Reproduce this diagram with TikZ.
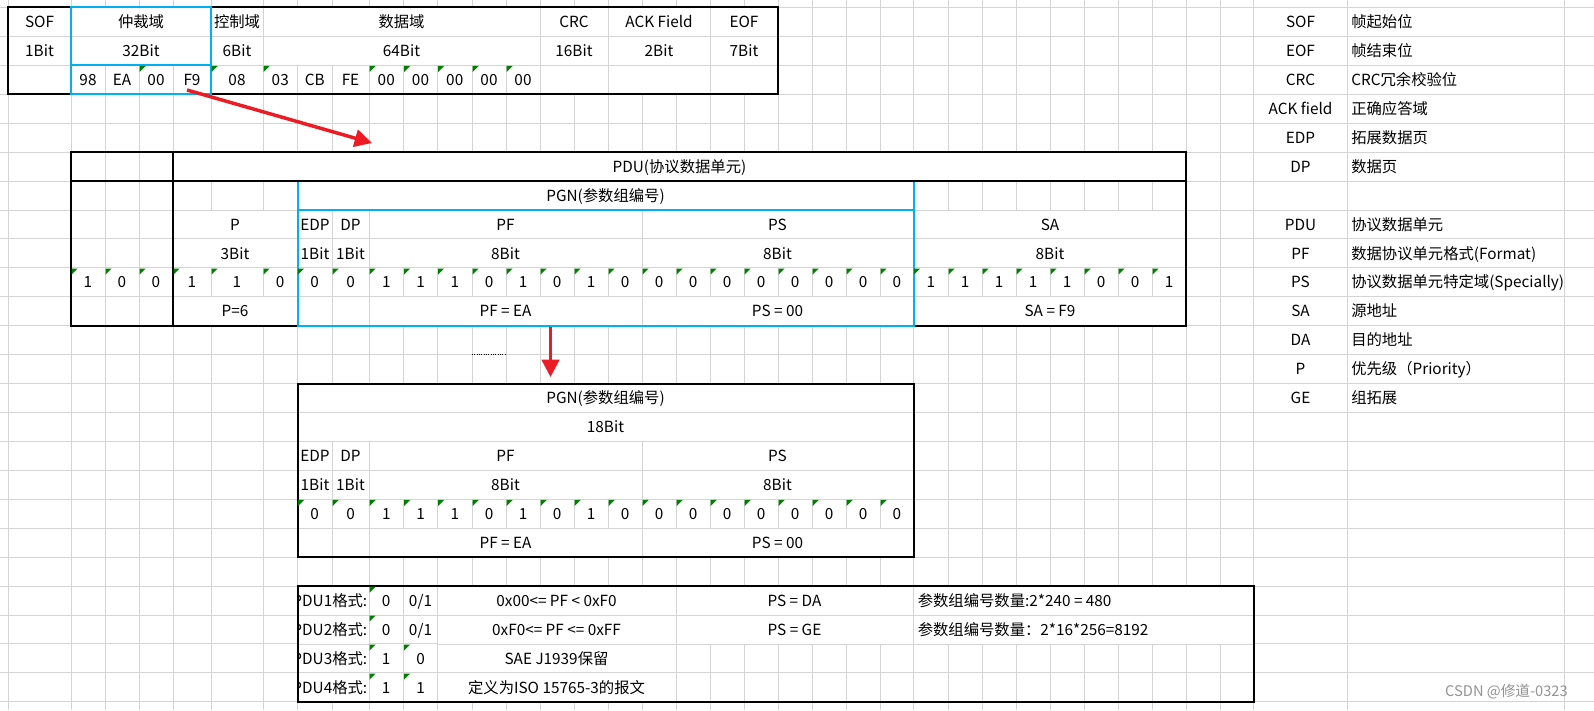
\documentclass[tikz,border=0pt]{standalone}
\usepackage{fontspec}
\setmainfont{Noto Sans CJK SC}
\usepackage{tikz}
\usetikzlibrary{arrows.meta}

\definecolor{gridgray}{RGB}{212,212,212}
\definecolor{selblue}{RGB}{0,176,240}
\definecolor{flaggreen}{RGB}{0,128,0}
\definecolor{markred}{RGB}{237,28,36}

\tikzset{
  celltxt/.style={inner sep=0.75pt, font=\fontsize{11.5}{13}\selectfont, text height=8.4pt, text depth=0pt},
  merged/.style={draw=gridgray, line width=0.75pt, fill=white},
  tblframe/.style={draw=black, line width=1.5pt},
  blueframe/.style={draw=selblue, line width=1.5pt},
  redarrow/.style={draw=markred, line width=2.6pt, -{Triangle[length=13pt,width=13pt]}},
}
\newcommand{\txtflag}[2]{\fill[flaggreen] (#1+0.6,#2+0.6) -- ++(6,0) -- ++(-6,6) -- cycle;}

\begin{document}
\begin{tikzpicture}[x=0.75pt,y=0.75pt,yscale=-1]
\useasboundingbox (0,0) rectangle (1594,710);
\fill[white] (0,0) rectangle (1594,710);

% sheet grid
\foreach \gx in {8,71,105,139,173,211,263,297.5,332,369,403.5,437.5,472,506,540,574,608,642,676,710,744,778,812,846,880,913.5,948,982,1016,1050,1084,1118,1152,1186,1220,1253.5,1347,1564}
  \draw[gridgray, line width=0.75pt] (\gx,0) -- (\gx,710);
\foreach \k in {0,...,24}
  \draw[gridgray, line width=0.75pt] (0,{7.5+28.93*\k}) -- (1594,{7.5+28.93*\k});

%Shape: CAN frame
\foreach \xl/\xr in {71/211,263/540,540/608,608/710,710/778}{
  \draw[merged] (\xl,7.5) rectangle (\xr,36.4);
  \draw[merged] (\xl,36.4) rectangle (\xr,65.4);
}
\foreach \xl/\xr in {540/608,608/710,710/778}
  \draw[merged] (\xl,65.4) rectangle (\xr,94.3);
\draw[tblframe] (8,7.5) rectangle (778,94.3);
\draw[blueframe] (71,7.5) rectangle (211,94.3);
\draw[blueframe] (71,65.4) -- (211,65.4);

% Text Node
\node[celltxt] (sof) at (39.5,22) {SOF};
\node[celltxt] (arb) at (141,22) {仲裁域};
\node[celltxt] (ctrl) at (237,22) {控制域};
\node[celltxt] (data) at (401.5,22) {数据域};
\node[celltxt] (crc) at (574,22) {CRC};
\node[celltxt] (ack) at (659,22) {ACK Field};
\node[celltxt] (eof) at (744,22) {EOF};
\node[celltxt] (sofLen) at (39.5,50.9) {1Bit};
\node[celltxt] (arbLen) at (141,50.9) {32Bit};
\node[celltxt] (ctrlLen) at (237,50.9) {6Bit};
\node[celltxt] (dataLen) at (401.5,50.9) {64Bit};
\node[celltxt] (crcLen) at (574,50.9) {16Bit};
\node[celltxt] (ackLen) at (659,50.9) {2Bit};
\node[celltxt] (eofLen) at (744,50.9) {7Bit};
\foreach \xl/\xr/\bt [count=\i] in {71/105/98,105/139/EA,139/173/00,173/211/F9,211/263/08,263/297.5/03,297.5/332/CB,332/369/FE,369/403.5/00,403.5/437.5/00,437.5/472/00,472/506/00,506/540/00}
  \node[celltxt] (byte\i) at ({(\xl+\xr)/2},79.8) {\bt};
\foreach \fx in {139,211,263,369,403.5,437.5,472,506}
  {\txtflag{\fx}{65.4}}

%Shape: PDU frame
\draw[merged] (173,152.2) rectangle (1186,181.1);
\draw[merged] (297.5,181.1) rectangle (913.5,210);
\foreach \xl/\xr in {173/297.5,369/642,642/913.5,913.5/1186}{
  \draw[merged] (\xl,210) rectangle (\xr,238.9);
  \draw[merged] (\xl,238.9) rectangle (\xr,267.9);
  \draw[merged] (\xl,296.8) rectangle (\xr,325.7);
}
\draw[tblframe] (71,152.2) rectangle (1186,325.7);
\draw[blueframe] (297.5,181.1) rectangle (913.5,325.7);
\draw[blueframe] (297.5,210) -- (913.5,210);
\draw[tblframe] (71,181.1) -- (1186,181.1);
\draw[tblframe] (173,152.2) -- (173,325.7);

% Text Node
\node[celltxt] (pdu) at (679.5,166.6) {PDU(协议数据单元)};
\node[celltxt] (pgn) at (605.5,195.5) {PGN(参数组编号)};
\node[celltxt] (prio) at (235,224.5) {P};
\node[celltxt] (edp) at (315,224.5) {EDP};
\node[celltxt] (dp) at (350.5,224.5) {DP};
\node[celltxt] (pf) at (505.5,224.5) {PF};
\node[celltxt] (ps) at (777.5,224.5) {PS};
\node[celltxt] (sa) at (1050,224.5) {SA};
\node[celltxt] (prioLen) at (235,253.4) {3Bit};
\node[celltxt] (edpLen) at (315,253.4) {1Bit};
\node[celltxt] (dpLen) at (350.5,253.4) {1Bit};
\node[celltxt] (pfLen) at (505.5,253.4) {8Bit};
\node[celltxt] (psLen) at (777.5,253.4) {8Bit};
\node[celltxt] (saLen) at (1050,253.4) {8Bit};
\foreach \xl/\xr/\bv [count=\i] in {71/105/1,105/139/0,139/173/0,173/211/1,211/263/1,263/297.5/0,297.5/332/0,332/369/0,369/403.5/1,403.5/437.5/1,437.5/472/1,472/506/0,506/540/1,540/574/0,574/608/1,608/642/0,642/676/0,676/710/0,710/744/0,744/778/0,778/812/0,812/846/0,846/880/0,880/913.5/0,913.5/948/1,948/982/1,982/1016/1,1016/1050/1,1050/1084/1,1084/1118/0,1118/1152/0,1152/1186/1}{
  \node[celltxt] (idbit\i) at ({(\xl+\xr)/2},282.3) {\bv};
  \txtflag{\xl}{267.9}
}
\node[celltxt] (prioVal) at (235,311.3) {P=6};
\node[celltxt] (pfVal) at (505.5,311.3) {PF = EA};
\node[celltxt] (psVal) at (777.5,311.3) {PS = 00};
\node[celltxt] (saVal) at (1050,311.3) {SA = F9};

\draw[densely dotted, black, line width=0.75pt] (472,354.7) -- (506,354.7);

%Shape: PGN frame
\draw[merged] (297.5,383.6) rectangle (913.5,412.5);
\draw[merged] (297.5,412.5) rectangle (913.5,441.5);
\foreach \xl/\xr in {369/642,642/913.5}{
  \draw[merged] (\xl,441.5) rectangle (\xr,470.4);
  \draw[merged] (\xl,470.4) rectangle (\xr,499.3);
  \draw[merged] (\xl,528.2) rectangle (\xr,557.2);
}
\draw[tblframe] (297.5,383.6) rectangle (913.5,557.2);

% Text Node
\node[celltxt] (pgnB) at (605.5,398.1) {PGN(参数组编号)};
\node[celltxt] (pgnLen) at (605.5,427) {18Bit};
\node[celltxt] (edpB) at (315,455.9) {EDP};
\node[celltxt] (dpB) at (350.5,455.9) {DP};
\node[celltxt] (pfB) at (505.5,455.9) {PF};
\node[celltxt] (psB) at (777.5,455.9) {PS};
\node[celltxt] (edpLenB) at (315,484.9) {1Bit};
\node[celltxt] (dpLenB) at (350.5,484.9) {1Bit};
\node[celltxt] (pfLenB) at (505.5,484.9) {8Bit};
\node[celltxt] (psLenB) at (777.5,484.9) {8Bit};
\foreach \xl/\xr/\bv [count=\i] in {297.5/332/0,332/369/0,369/403.5/1,403.5/437.5/1,437.5/472/1,472/506/0,506/540/1,540/574/0,574/608/1,608/642/0,642/676/0,676/710/0,710/744/0,744/778/0,778/812/0,812/846/0,846/880/0,880/913.5/0}{
  \node[celltxt] (pgnbit\i) at ({(\xl+\xr)/2},513.8) {\bv};
  \txtflag{\xl}{499.3}
}
\node[celltxt] (pfValB) at (505.5,542.7) {PF = EA};
\node[celltxt] (psValB) at (777.5,542.7) {PS = 00};

%Shape: PDU format table
\foreach \y/\yy in {586.1/615,615/644,644/672.9,672.9/701.8}{
  \draw[merged] (297.5,\y) rectangle (369,\yy);
  \draw[merged] (437.5,\y) rectangle (676,\yy);
}
\foreach \y/\yy in {586.1/615,615/644}{
  \draw[merged] (676,\y) rectangle (913.5,\yy);
  \draw[merged] (913.5,\y) rectangle (1253.5,\yy);
}
\begin{scope}
  \clip (297.5,586.1) rectangle (369,701.8);
  \foreach \yc [count=\i] in {600.6,629.5,658.4,687.4}
    \node[celltxt, anchor=east] (fmt\i) at (368.5,\yc) {PDU\i{}格式:};
\end{scope}
\draw[tblframe] (297.5,586.1) rectangle (1253.5,701.8);
\foreach \fx/\fy in {369/586.1,369/615,369/644,403.5/644,369/672.9,403.5/672.9}
  {\txtflag{\fx}{\fy}}

% Text Node
\node[celltxt] (fmtA) at (386,600.6) {0};
\node[celltxt] (fmtAdp) at (420.5,600.6) {0/1};
\node[celltxt] (fmtArange) at (556.5,600.6) {0x00<= PF < 0xF0};
\node[celltxt] (fmtAps) at (794.5,600.6) {PS = DA};
\node[celltxt, anchor=west] (fmtAnum) at (916.5,600.6) {参数组编号数量:2*240 = 480};
\node[celltxt] (fmtB) at (386,629.5) {0};
\node[celltxt] (fmtBdp) at (420.5,629.5) {0/1};
\node[celltxt] (fmtBrange) at (556.5,629.5) {0xF0<= PF <= 0xFF};
\node[celltxt] (fmtBps) at (794.5,629.5) {PS = GE};
\node[celltxt, anchor=west] (fmtBnum) at (916.5,629.5) {参数组编号数量：2*16*256=8192};
\node[celltxt] (fmtC) at (386,658.4) {1};
\node[celltxt] (fmtCdp) at (420.5,658.4) {0};
\node[celltxt] (fmtCnote) at (556.5,658.4) {SAE J1939保留};
\node[celltxt] (fmtD) at (386,687.4) {1};
\node[celltxt] (fmtDdp) at (420.5,687.4) {1};
\node[celltxt] (fmtDnote) at (556.5,687.4) {定义为ISO 15765-3的报文};

% legend
\foreach \ab/\ds/\k in {SOF/帧起始位/0,EOF/帧结束位/1,CRC/CRC冗余校验位/2,ACK field/正确应答域/3,EDP/拓展数据页/4,DP/数据页/5,PDU/协议数据单元/7,PF/数据协议单元格式(Format)/8,PS/协议数据单元特定域(Specially)/9,SA/源地址/10,DA/目的地址/11,P/优先级（Priority）/12,GE/组拓展/13}{
  \node[celltxt] (abbr\k) at (1300.5,{7.5+28.93*(\k+0.5)}) {\ab};
  \node[celltxt, anchor=west] (desc\k) at (1350,{7.5+28.93*(\k+0.5)}) {\ds};
}

% arrows
\coordinate (arbTail) at (187,90);
\coordinate (pduTip) at (372,143);
\coordinate (pduTail) at (550.5,327);
\coordinate (pgnTip) at (550.5,377);
\draw[redarrow] (arbTail) -- (pduTip);
\draw[redarrow] (pduTail) -- (pgnTip);

\node[font=\fontsize{11}{13}\selectfont, text=gray!85, anchor=east, inner sep=0pt] (wmark) at (1568,691.5) {CSDN @修道-0323};
\end{tikzpicture}
\end{document}
